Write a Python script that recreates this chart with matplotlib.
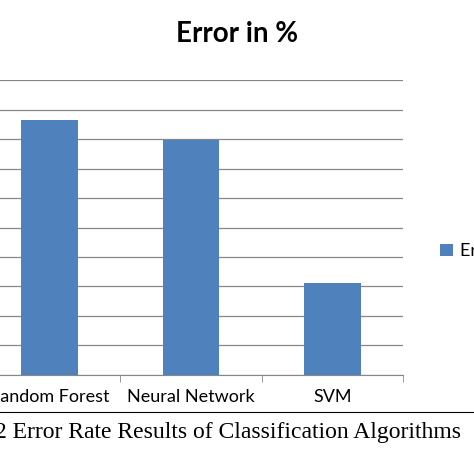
import matplotlib.pyplot as plt

categories = ["Random Forest", "Neural Network", "SVM"]
errors = [8.65, 7.97, 3.12]
series_name = "Error in %"

fig = plt.figure(figsize=(4.74, 4.74), dpi=100)
ax = fig.add_axes([-0.045, 0.209, 0.896, 0.622])

ax.bar(range(len(categories)), errors, width=0.4, color="#4f81bd", label=series_name, zorder=3)
ax.set_xlim(-0.5, 2.5)
ax.set_ylim(0, 10)
ax.set_yticks(range(0, 11))
ax.set_yticklabels([])
ax.tick_params(axis="y", length=0)
ax.grid(axis="y", color="#878787", linewidth=0.9, zorder=0)
ax.set_xticks([0, 1, 2])
ax.set_xticklabels(categories, fontsize=13, family="Lato")
ax.set_xticks([-0.5, 0.5, 1.5, 2.5], minor=True)
ax.tick_params(axis="x", which="major", length=0, pad=10)
ax.tick_params(axis="x", which="minor", length=5, color="#878787")
for s in ["top", "right", "left"]:
    ax.spines[s].set_visible(False)
ax.spines["bottom"].set_color("#878787")

fig.text(0.5, 0.928, series_name, ha="center", va="center", fontsize=20,
         fontweight="bold", family="Lato")

fig.legend(loc="center left", bbox_to_anchor=(0.895, 0.47), frameon=False,
           prop={"family": "Lato", "size": 13}, handlelength=0.7, handleheight=0.7,
           handletextpad=0.4)

fig.add_artist(plt.Line2D([0, 1], [0.131, 0.131], color="black", linewidth=0.8))
fig.text(-0.01, 0.088, "2 Error Rate Results of Classification Algorithms",
         ha="left", va="center", fontsize=17, family="Liberation Serif")

fig.savefig("out.png", dpi=100)
